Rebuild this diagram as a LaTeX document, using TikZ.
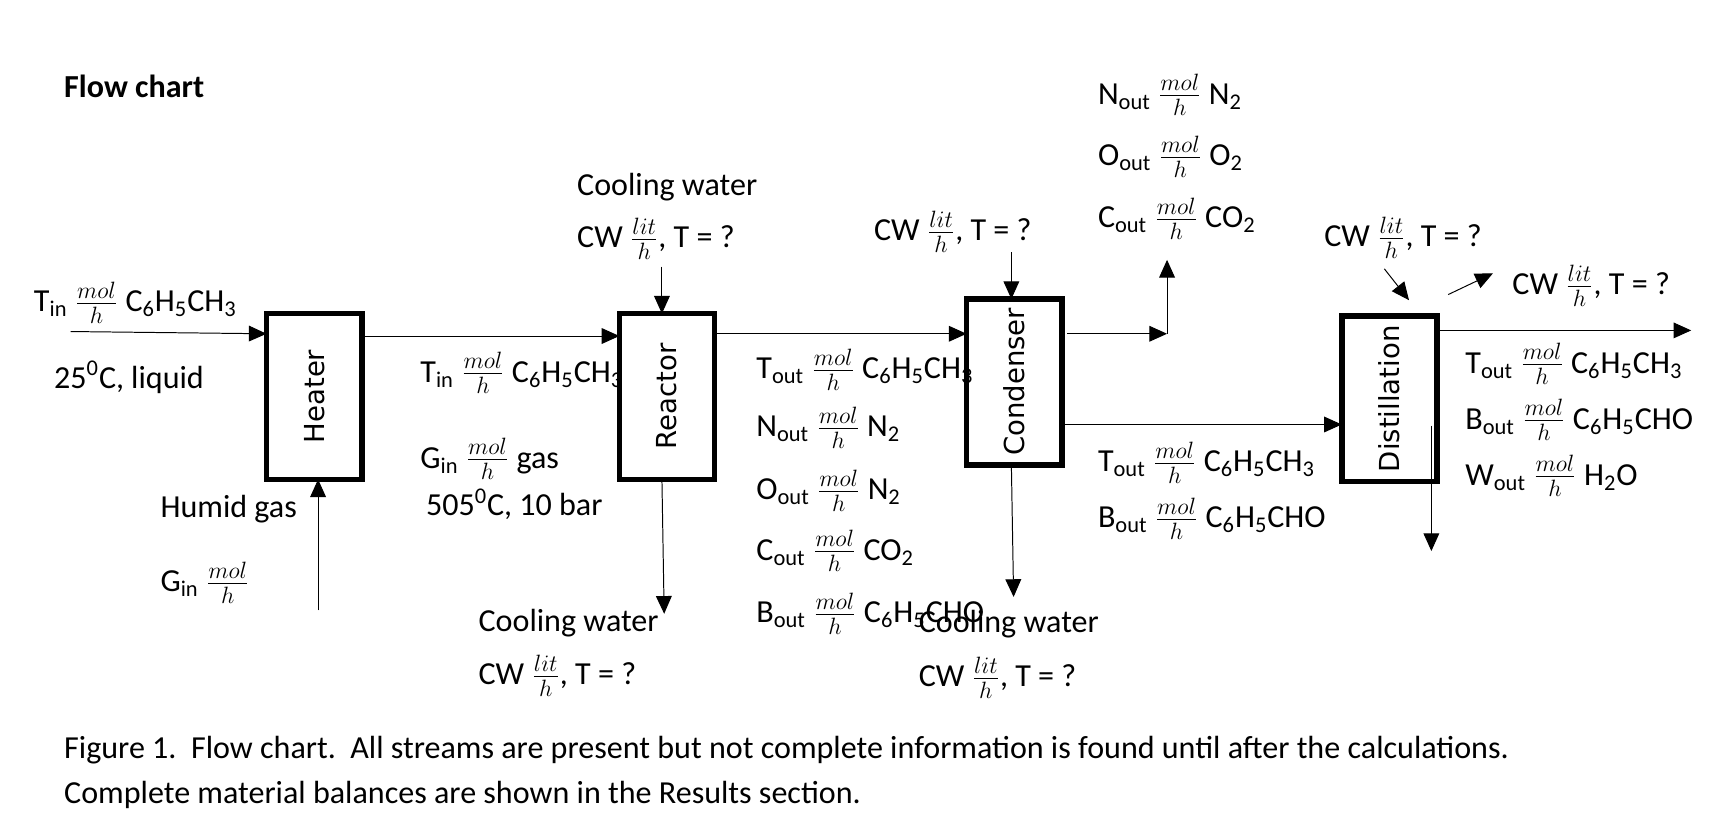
\documentclass[tikz,border=0pt]{standalone}
\usepackage{amsmath}
\usepackage{fontspec}
\setmainfont{Carlito}
\newfontfamily\boxfont{DejaVu Sans}
\usetikzlibrary{arrows.meta,positioning}
\newcommand{\fr}[2]{\ensuremath{\genfrac{}{}{0.4pt}{1}{\mbox{\fontsize{12.5}{12.5}\selectfont$#1$}}{\mbox{\fontsize{12.5}{12.5}\selectfont$#2$}}}}
\newcommand{\rate}[3]{#1\textsubscript{#2} \fr{mol}{h} #3}
\newcommand{\cwrate}{CW \fr{lit}{h}, T = ?}
\begin{document}
\begin{tikzpicture}[x=0.02cm,y=-0.02cm,
  font=\fontsize{16.3}{19}\selectfont,
  every node/.style={anchor=west, inner sep=0pt},
  unit/.style={draw, line width=2.8pt, minimum width=1.7cm, minimum height=2.96cm,
    anchor=north west, inner sep=0pt, outer sep=0pt},
  unitlabel/.style={rotate=90, anchor=center, font=\boxfont\fontsize{14}{16}\selectfont},
  arrow/.style={-{Triangle[length=9pt,width=8pt]}, line width=0.5pt},
  line/.style={-, line width=0.5pt}]

  \useasboundingbox (0,0) rectangle (1550,738);

  \node[font=\bfseries\fontsize{16.3}{19}\selectfont] (title) at (57,77) {Flow chart};

  % Process units
  \node[unit] (heater) at (238,280) {};
  \node[unitlabel] at (heater.center) {Heater};
  \node[unit] (reactor) at (553,280) {};
  \node[unitlabel] at (reactor.center) {Reactor};
  \node[unit] (condenser) at (863,267) {};
  \node[unitlabel] at (condenser.center) {Condenser};
  \node[unit] (distill) at (1198,282) {};
  \node[unitlabel] at (distill.center) {Distillation};

  % Feed
  \coordinate (feed) at (63,296);
  \draw[arrow] (feed) -- (heater.west |- 0,298);
  \node (feedrate) at (30,270) {\rate{T}{in}{C\textsubscript{6}H\textsubscript{5}CH\textsubscript{3}}};
  \node (feedstate) at (48,337) {25\textsuperscript{0}C, liquid};
  \coordinate (gas) at (284,545);
  \draw[arrow] (gas) -- (heater.south -| gas);
  \node (humid) at (143,455) {Humid gas};
  \node (gasrate) at (143,520) {G\textsubscript{in} \fr{mol}{h}};

  % Heater to reactor
  \draw[arrow] (heater.east |- 0,300) -- (reactor.west |- 0,300);
  \node (heated1) at (375,333) {\rate{T}{in}{C\textsubscript{6}H\textsubscript{5}CH\textsubscript{3}}};
  \node (heated2) at (375,410) {\rate{G}{in}{gas}};
  \node (heated3) at (380,450) {505\textsuperscript{0}C, 10 bar};

  % Reactor cooling
  \node (rcwin1) at (515,167) {Cooling water};
  \node (rcwin2) at (515,213) {\cwrate};
  \coordinate (rcin) at (591,238);
  \draw[arrow] (rcin) -- (reactor.north -| rcin);
  \coordinate (rcout) at (593,548);
  \draw[arrow] (reactor.south -| 591,0) -- (rcout);
  \node (rcwout1) at (427,556) {Cooling water};
  \node (rcwout2) at (427,603) {\cwrate};

  % Reactor to condenser
  \draw[arrow] (reactor.east |- 0,298) -- (condenser.west |- 0,298);
  \node (rp1) at (675,330) {\rate{T}{out}{C\textsubscript{6}H\textsubscript{5}CH\textsubscript{3}}};
  \node (rp2) at (675,382) {\rate{N}{out}{N\textsubscript{2}}};
  \node (rp3) at (675,438) {\rate{O}{out}{N\textsubscript{2}}};
  \node (rp4) at (675,492) {\rate{C}{out}{CO\textsubscript{2}}};
  \node (rp5) at (675,548) {\rate{B}{out}{C\textsubscript{6}H\textsubscript{5}CHO}};

  % Condenser cooling
  \node (ccwin) at (780,207) {\cwrate};
  \coordinate (ccin) at (903,225);
  \draw[arrow] (ccin) -- (condenser.north -| ccin);
  \coordinate (ccout) at (905,533);
  \draw[arrow] (condenser.south -| 903,0) -- (ccout);
  \node (ccwout1) at (820,557) {Cooling water};
  \node (ccwout2) at (820,605) {\cwrate};

  % Condenser vapour
  \coordinate (bend) at (1042,298);
  \coordinate (vent) at (1042,232);
  \draw[arrow] (condenser.east |- 0,298) ++(5,0) -- (bend);
  \draw[arrow] (bend) -- (vent);
  \node (g1) at (980,85) {\rate{N}{out}{N\textsubscript{2}}};
  \node (g2) at (980,140) {\rate{O}{out}{O\textsubscript{2}}};
  \node (g3) at (980,195) {\rate{C}{out}{CO\textsubscript{2}}};

  % Condenser liquid to distillation
  \draw[arrow] (condenser.east |- 0,379) -- (distill.west |- 0,379);
  \node (l1) at (980,413) {\rate{T}{out}{C\textsubscript{6}H\textsubscript{5}CH\textsubscript{3}}};
  \node (l2) at (980,463) {\rate{B}{out}{C\textsubscript{6}H\textsubscript{5}CHO}};

  % Distillation
  \node (dcwin) at (1182,212) {\cwrate};
  \coordinate (dcin) at (1236,240);
  \coordinate (dcinend) at (1258,268);
  \draw[arrow] (dcin) -- (dcinend);
  \coordinate (dcout) at (1293,263);
  \coordinate (dcoutend) at (1333,244);
  \draw[arrow] (dcout) -- (dcoutend);
  \node (dcwout) at (1350,255) {\cwrate};
  \coordinate (top) at (1510,295);
  \draw[arrow] (distill.east |- top) -- (top);
  \node (d1) at (1308,325) {\rate{T}{out}{C\textsubscript{6}H\textsubscript{5}CH\textsubscript{3}}};
  \node (d2) at (1308,375) {\rate{B}{out}{C\textsubscript{6}H\textsubscript{5}CHO}};
  \node (d3) at (1308,425) {\rate{W}{out}{H\textsubscript{2}O}};
  \coordinate (bottoms) at (1278,492);
  \draw[arrow] (1278,380) -- (bottoms);

  % Caption
  \node (cap1) at (57,670) {Figure 1.\ \ Flow chart.\ \ All streams are present but not complete information is found until after the calculations.};
  \node (cap2) at (57,710) {Complete material balances are shown in the Results section.};

\end{tikzpicture}
\end{document}
